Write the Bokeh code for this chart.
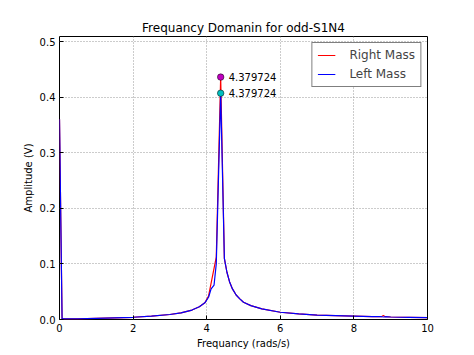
from bokeh.plotting import figure
from bokeh.models import Range1d, Label, Legend, LegendItem, FixedTicker, NumeralTickFormatter
from bokeh.embed import file_html
from bokeh.resources import INLINE

title = "Frequancy Domanin for odd-S1N4"
x_label = "Frequancy (rads/s)"
y_label = "Amplitude (V)"

right_freq = [0.0, 0.07, 0.5, 1.0, 1.5, 2.0, 2.5, 3.0, 3.3, 3.6, 3.8, 3.95, 4.05, 4.26, 4.379724,
              4.48, 4.55, 4.62, 4.7, 4.8, 4.9, 5.0, 5.2, 5.5, 6.0, 6.5, 7.0, 7.5, 8.0, 8.5,
              8.75, 8.8, 8.85, 9.0, 9.5, 10.0]
right_amp = [0.36, 0.001, 0.001, 0.002, 0.003, 0.004, 0.006, 0.009, 0.012, 0.017, 0.023, 0.030, 0.042, 0.112, 0.436,
             0.11, 0.085, 0.068, 0.055, 0.044, 0.037, 0.031, 0.025, 0.019, 0.013, 0.010, 0.008, 0.007, 0.006, 0.005,
             0.005, 0.007, 0.005, 0.0045, 0.004, 0.0035]

left_freq = [0.0, 0.07, 0.5, 1.0, 1.5, 2.0, 2.5, 3.0, 3.3, 3.6, 3.8, 3.95, 4.05, 4.12, 4.2, 4.26, 4.379724,
             4.48, 4.55, 4.62, 4.7, 4.8, 4.9, 5.0, 5.2, 5.5, 6.0, 6.5, 7.0, 7.5, 8.0, 8.5,
             8.75, 8.8, 8.85, 9.0, 9.5, 10.0]
left_amp = [0.36, 0.001, 0.001, 0.002, 0.003, 0.004, 0.006, 0.009, 0.012, 0.017, 0.023, 0.030, 0.040, 0.055, 0.062, 0.10, 0.407,
            0.11, 0.085, 0.068, 0.055, 0.044, 0.037, 0.031, 0.025, 0.019, 0.013, 0.010, 0.008, 0.007, 0.006, 0.005,
            0.005, 0.0045, 0.005, 0.0045, 0.004, 0.0035]

peak_freq = [4.379724, 4.379724]
peak_amp = [0.436, 0.407]
peak_labels = ["4.379724", "4.379724"]

x_ticks = [0, 2, 4, 6, 8, 10]
y_ticks = [0.0, 0.1, 0.2, 0.3, 0.4, 0.5]

FONT = "DejaVu Sans"

p = figure(width=474, height=355, output_backend="svg", toolbar_location=None,
           x_range=Range1d(0, 10), y_range=Range1d(0, 0.509),
           min_border_left=59, min_border_right=47, min_border_top=36, min_border_bottom=36)
p.title.text = title
p.title.align = "center"
p.title.text_font = FONT
p.title.text_font_size = "12px"
p.title.text_font_style = "normal"
p.title.text_color = "black"
p.title.standoff = 3

p.outline_line_color = "black"
p.outline_line_width = 1
p.outline_line_alpha = 1

for ax in (p.xaxis, p.yaxis):
    ax.axis_line_color = None
    ax.major_tick_in = 4
    ax.major_tick_out = 0
    ax.minor_tick_line_color = None
    ax.major_label_text_font = FONT
    ax.major_label_text_font_size = "10px"
    ax.major_label_text_color = "black"
    ax.axis_label_text_font = FONT
    ax.axis_label_text_font_size = "10px"
    ax.axis_label_text_font_style = "normal"
    ax.axis_label_text_color = "black"
    ax.major_label_standoff = 4
    ax.axis_label_standoff = 3

p.xaxis.axis_label = x_label
p.yaxis.axis_label = y_label
p.xaxis.ticker = FixedTicker(ticks=x_ticks)
p.yaxis.ticker = FixedTicker(ticks=y_ticks)
p.yaxis.formatter = NumeralTickFormatter(format="0.0")

p.grid.grid_line_color = "#999999"
p.grid.grid_line_dash = "1 2"
p.grid.grid_line_width = 1

r_red = p.line(right_freq, right_amp, line_color="red", line_width=1.2)
r_blue = p.line(left_freq, left_amp, line_color="blue", line_width=1.2)

p.scatter([peak_freq[0]], [peak_amp[0]], size=6.5, fill_color="#bf00bf", line_color="black", line_width=0.5)
p.scatter([peak_freq[1]], [peak_amp[1]], size=6.5, fill_color="#00bfbf", line_color="black", line_width=0.5)

for fx, fy, t in zip(peak_freq, peak_amp, peak_labels):
    p.add_layout(Label(x=fx, y=fy, text=t, x_offset=8, y_offset=0,
                       text_font=FONT, text_font_size="10px", text_baseline="middle",
                       text_color="black"))

legend = Legend(items=[LegendItem(label="Right Mass", renderers=[r_red]),
                       LegendItem(label="Left Mass", renderers=[r_blue])],
                location="top_right")
legend.label_text_font = FONT
legend.label_text_font_size = "12px"
legend.border_line_color = "black"
legend.border_line_width = 1
legend.background_fill_alpha = 1
legend.glyph_width = 18
legend.glyph_height = 12
legend.label_height = 12
legend.label_standoff = 14
legend.padding = 5
legend.spacing = 5
legend.margin = 6
p.add_layout(legend)

open("out.html", "w").write(file_html(p, INLINE))
